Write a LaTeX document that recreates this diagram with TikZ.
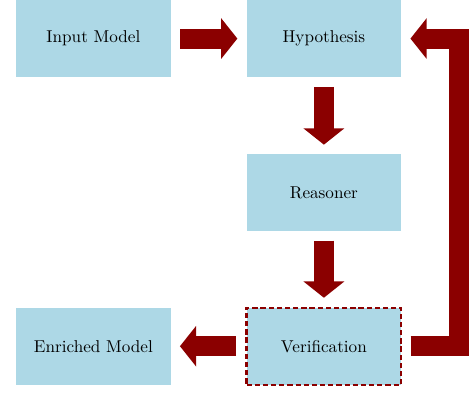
\documentclass[tikz,border=0pt]{standalone}
\usepackage{tikz}
\usetikzlibrary{arrows.meta}
\definecolor{boxblue}{RGB}{173,216,230}
\definecolor{arrowred}{RGB}{139,0,0}
\tikzstyle{process} = [rectangle, minimum width=3.33cm, minimum height=1.66cm, text centered, fill=boxblue, font=\fontsize{10.5}{12}\selectfont]
\tikzstyle{check} = [process, draw=arrowred, line width=1.3pt, dash pattern=on 3.2pt off 1.8pt]
\tikzstyle{bigarrow} = [draw=arrowred, line width=0.43cm, shorten <=0.2cm, shorten >=0.19cm, -{Triangle[width=0.86cm,length=0.35cm]}]

\begin{document}
\begin{tikzpicture}[node distance=3.31cm]
        \useasboundingbox (-6.97,0.83) rectangle (3.23,-8.03);
        \node (hyp) [process] {Hypothesis};
        \node (input) [process, left of=hyp, node distance=4.96cm] {Input Model};
        \draw [bigarrow] (input) -- (hyp);
        \node (reas) [process, below of=hyp] {Reasoner};
        \draw [bigarrow] (hyp) -- (reas);
        \node (ver) [check, below of=reas] {Verification};
        \draw [bigarrow] (reas) -- (ver);
        \node (out) [process, left of=ver, node distance=4.96cm] {Enriched Model};
        \draw [bigarrow] (ver) -- (out);
        \draw [bigarrow, shorten <=0.18cm] (ver.east) -- ++(1.22cm,0) |- (hyp.east);
    \end{tikzpicture}
\end{document}
